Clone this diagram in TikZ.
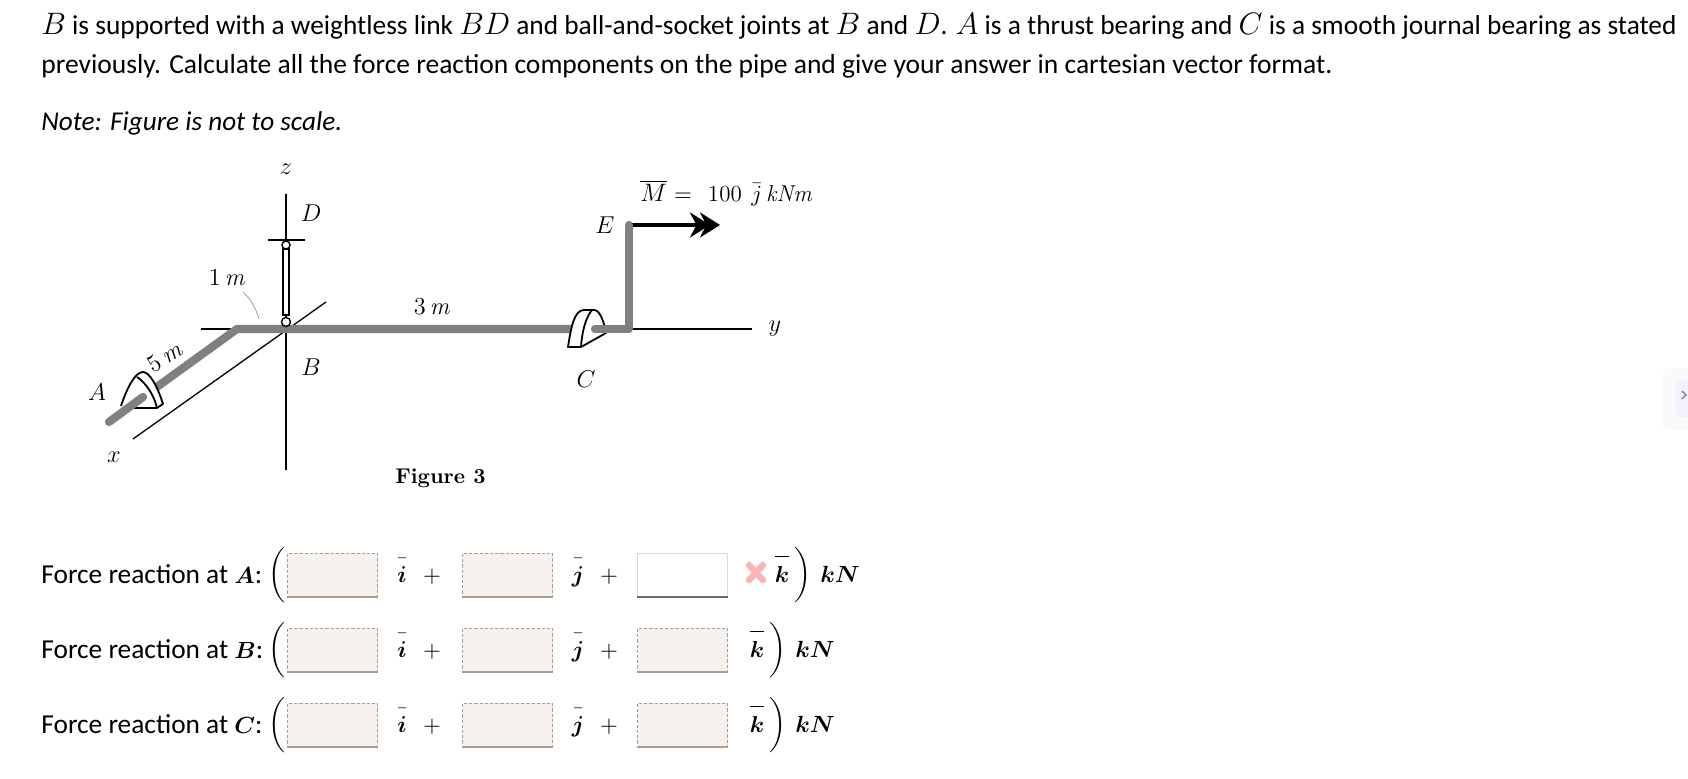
\documentclass[tikz,border=0pt]{standalone}
\usepackage{fix-cm}
\usepackage{amsmath,amssymb}
\usepackage{fontspec}
\usepackage{xcolor}
\setsansfont{Carlito}
\usetikzlibrary{arrows.meta}

\definecolor{pipegray}{HTML}{808080}
\definecolor{boxfill}{HTML}{F4F1EE}
\definecolor{boxedge}{HTML}{B09B88}
\definecolor{openedge}{HTML}{5E6E78}

\newcommand{\bodyvar}[1]{{\fontsize{15.5}{17}\selectfont$#1$}}
\newcommand{\rowvar}[1]{{\fontsize{11.7}{14}\selectfont$\boldsymbol{#1}$}}
\newcommand{\unitbar}[1]{$\bar{\rule{0pt}{0.93em}\boldsymbol{#1}}$}
\newcommand{\unitline}[1]{$\overline{\rule{0pt}{1em}\boldsymbol{#1}}$}

\tikzset{
    bodytext/.style={inner sep=0pt, anchor=base west, font=\sffamily\fontsize{13.68}{16}\selectfont},
    figlabel/.style={inner sep=0pt, font=\fontsize{12.2}{15}\selectfont},
    rowmath/.style={inner sep=0pt, anchor=base, font=\fontsize{11.5}{14}\selectfont},
    answerbox/.style={rectangle, minimum width=45pt, minimum height=21.5pt, inner sep=0pt, anchor=north west, fill=boxfill, draw=boxedge, line width=0.5pt, dash pattern=on 1.6pt off 1pt,
        append after command={(\tikzlastnode.south west) edge[solid, draw=boxedge, line width=0.6pt] (\tikzlastnode.south east)}},
    openbox/.style={rectangle, minimum width=45pt, minimum height=21.5pt, inner sep=0pt, anchor=north west, fill=white, draw=black!15, line width=0.5pt,
        append after command={(\tikzlastnode.south west) edge[draw=openedge, line width=0.7pt] (\tikzlastnode.south east)}},
    axisline/.style={line width=0.65pt},
    pipeline/.style={draw=pipegray, line width=4.1pt, line cap=round, line join=round},
    bearing/.style={draw=black, fill=white, line width=0.9pt, line join=round},
}

\begin{document}
\begin{tikzpicture}[x=0.5pt, y=-0.5pt, >=latex]
    \useasboundingbox (0,0) rectangle (1688,779);
    \clip (0,0) rectangle (1688,779);

    % question text
    \node [bodytext] (line1) at (41,35) {\bodyvar{B} is supported with a weightless link \bodyvar{BD} and ball-and-socket joints at \bodyvar{B} and \bodyvar{D}. \bodyvar{A} is a thrust bearing and \bodyvar{C} is a smooth journal bearing as stated};
    \node [bodytext, font=\sffamily\fontsize{13.76}{16}\selectfont] (line2) at (41,74) {previously. Calculate all the force reaction components on the pipe and give your answer in cartesian vector format.};
    \node [bodytext, font=\sffamily\itshape\fontsize{13.6}{16}\selectfont] (note) at (41,131) {Note: Figure is not to scale.};

    % axes
    \coordinate (B) at (286,329);
    \coordinate (bend) at (237,329);
    \coordinate (C) at (590,329);
    \coordinate (corner) at (629,329);
    \coordinate (E) at (629,225);
    \coordinate (tipM) at (720,225);
    \draw [axisline] (286,194) -- (286,470);
    \draw [axisline] (133,439) -- (326,302);
    \draw [axisline] (201,329) -- (752,329);
    \draw [axisline] (268,240) -- (305,240);

    % pipe and bearing at A
    \draw [pipeline] (C) -- (bend) -- (143,397);
    \draw [bearing] (121,406) .. controls (127,388) and (135,372) .. (143,372)
        .. controls (150,372) and (158,388) .. (163,404) -- (157,408) -- (132,408);
    \draw [bearing, fill=none] (157,408) .. controls (154,395) and (146,383) .. (137,377);
    \draw [pipeline] (143,397) -- (109,422);

    % bearing at C
    \draw [bearing] (568,347) .. controls (571,328) and (574,310) .. (584,310) -- (594,310)
        .. controls (600,310) and (604,322) .. (606,333) -- (581,347) -- cycle;
    \draw [bearing, fill=none] (581,347) .. controls (582,331) and (586,317) .. (592,310);

    % link BD
    \draw [draw=black, fill=white, line width=0.7pt] (283,249) rectangle (289,315);
    \draw [draw=black, fill=white, line width=0.7pt] (286,245) circle (4);
    \draw [draw=black, fill=white, line width=0.7pt] (286,322) circle (4.5);

    % moment
    \draw [line width=2pt, -{Stealth[length=10pt,width=12.5pt,inset=3.2pt,sep=-5pt]Stealth[length=10pt,width=12.5pt,inset=3.2pt]}] (E) -- (tipM);
    \draw [pipeline] (595,329) -- (corner) -- (E);

    % leader of the 1 m label
    \draw [draw=black!35, line width=0.45pt] (243,292) .. controls (250,298) and (256,308) .. (259,319);

    % figure labels
    \node [figlabel] (labelz) at (286,169) {$z$};
    \node [figlabel] (labelD) at (311,213) {$D$};
    \node [figlabel] (label1m) at (227,278) {1\,\textit{m}};
    \node [figlabel] (label3m) at (432,307) {3\,\textit{m}};
    \node [figlabel, rotate=32] (label5m) at (165,357) {5\,\textit{m}};
    \node [figlabel] (labelA) at (97,392) {$A$};
    \node [figlabel] (labelB) at (311,367) {$B$};
    \node [figlabel] (labelx) at (114,457) {$x$};
    \node [figlabel] (labelE) at (605,225) {$E$};
    \node [figlabel] (labelC) at (586,379) {$C$};
    \node [figlabel] (labely) at (775,329) {$y$};
    \node [figlabel, anchor=base west, font=\fontsize{11.5}{14}\selectfont] (labelM) at (640,202) {{\fontsize{12.6}{14}\selectfont$\overline{M}$}\hspace{3.6pt}$=$\hspace{8pt}100\hspace{4.8pt}$\bar{j}$\hspace{2pt}\textit{kNm}};
    \node [inner sep=0pt, anchor=base west, font=\bfseries\fontsize{10.7}{14}\selectfont] (figcap) at (395,484) {Figure 3};

    % force reaction at A
    \node [bodytext] (rowA) at (41,584) {Force reaction at \rowvar{A}:};
    \node [rowmath, anchor=center] (openA) at (277,575.5) {$\bigg($};
    \node [answerbox] (boxAi) at (287,553) {};
    \node [rowmath] (iA) at (402,583) {\unitbar{i}};
    \node [rowmath] (plusAi) at (432,583) {$+$};
    \node [answerbox] (boxAj) at (462,553) {};
    \node [rowmath] (jA) at (578,583) {\unitbar{j}};
    \node [rowmath] (plusAj) at (609,583) {$+$};
    \node [openbox] (boxAk) at (637,553) {};
    \draw [line width=3.6pt, draw=black!12, line cap=round] (749,565) -- (763,580) (763,565) -- (749,580);
    \draw [line width=2.8pt, draw=red!30, line cap=round] (749,565) -- (763,580) (763,565) -- (749,580);
    \node [rowmath] (kA) at (782,583) {\unitline{k}};
    \node [rowmath, anchor=center] (closeA) at (803,575.5) {$\bigg)$};
    \node [rowmath, anchor=base west] (unitA) at (820,583) {\rowvar{kN}};

    % force reaction at B
    \node [bodytext] (rowB) at (41,659) {Force reaction at \rowvar{B}:};
    \node [rowmath, anchor=center] (openB) at (277,650.5) {$\bigg($};
    \node [answerbox] (boxBi) at (287,628) {};
    \node [rowmath] (iB) at (402,658) {\unitbar{i}};
    \node [rowmath] (plusBi) at (432,658) {$+$};
    \node [answerbox] (boxBj) at (462,628) {};
    \node [rowmath] (jB) at (578,658) {\unitbar{j}};
    \node [rowmath] (plusBj) at (609,658) {$+$};
    \node [answerbox] (boxBk) at (637,628) {};
    \node [rowmath] (kB) at (757,658) {\unitline{k}};
    \node [rowmath, anchor=center] (closeB) at (778,650.5) {$\bigg)$};
    \node [rowmath, anchor=base west] (unitB) at (795,658) {\rowvar{kN}};

    % force reaction at C
    \node [bodytext] (rowC) at (41,734) {Force reaction at \rowvar{C}:};
    \node [rowmath, anchor=center] (openC) at (277,725.5) {$\bigg($};
    \node [answerbox] (boxCi) at (287,703) {};
    \node [rowmath] (iC) at (402,733) {\unitbar{i}};
    \node [rowmath] (plusCi) at (432,733) {$+$};
    \node [answerbox] (boxCj) at (462,703) {};
    \node [rowmath] (jC) at (578,733) {\unitbar{j}};
    \node [rowmath] (plusCj) at (609,733) {$+$};
    \node [answerbox] (boxCk) at (637,703) {};
    \node [rowmath] (kC) at (757,733) {\unitline{k}};
    \node [rowmath, anchor=center] (closeC) at (778,725.5) {$\bigg)$};
    \node [rowmath, anchor=base west] (unitC) at (795,733) {\rowvar{kN}};

    % side tab at the page edge
    \fill [black!2, rounded corners=4pt] (1662,368) rectangle (1700,430);
    \fill [blue!5, rounded corners=3pt] (1675,380) rectangle (1700,417);
    \draw [draw=black!45, line width=0.8pt] (1682,391) -- (1686,395) -- (1682,399);
\end{tikzpicture}
\end{document}
